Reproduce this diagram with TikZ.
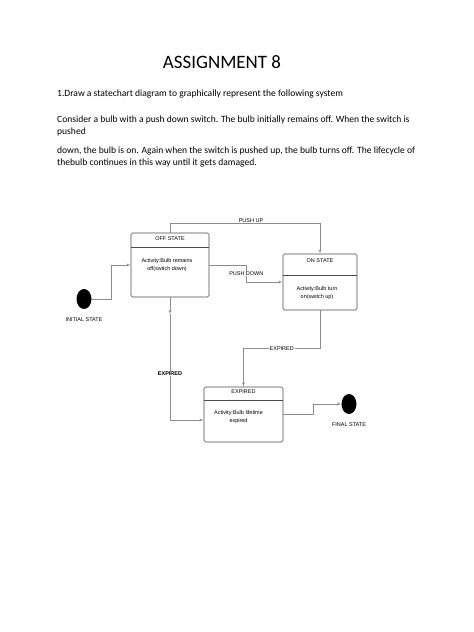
\documentclass[tikz,border=0pt]{standalone}
\usepackage{fontspec}
\setmainfont{Carlito}
\newfontfamily\diagfont{Liberation Sans}
\usetikzlibrary{shapes,arrows,positioning}
\tikzstyle{state} = [rectangle, draw=black!70, rounded corners=1.5pt, line width=0.6pt]
\tikzstyle{divider} = [draw=black!70, line width=0.6pt]
\tikzstyle{dot} = [ellipse, fill=black, minimum width=15bp, minimum height=20bp, inner sep=0pt]
\tikzstyle{line} = [draw=black!45, line width=0.45pt, -latex']
\tikzstyle{lbl} = [font=\diagfont\fontsize{5.5}{8}\selectfont, inner sep=1pt, align=center]
\tikzstyle{para} = [anchor=base west, inner sep=0pt, font=\fontsize{9.6}{12}\selectfont]

\begin{document}
\begin{tikzpicture}[x=1bp, y=-1bp]
  \useasboundingbox [fill=white] (0,0) rectangle (474,632);
  % task text
  \node [font=\fontsize{19}{22}\selectfont, anchor=base, inner sep=0pt] (Title) at (222,69) {ASSIGNMENT 8};
  \node [para] (Task) at (57,97) {1.Draw a statechart diagram to graphically represent the following system};
  \node [para] (TextA) at (57,123) {Consider a bulb with a push down switch. The bulb initially remains off. When the switch is};
  \node [para] (TextB) at (57,135) {pushed};
  \node [para] (TextC) at (57,154) {down, the bulb is on. Again when the switch is pushed up, the bulb turns off. The lifecycle of};
  \node [para] (TextD) at (57,166) {thebulb continues in this way until it gets damaged.};
  %
  \node [state, minimum width=78bp, minimum height=64bp] (Off) at (170,265) {};
  \node [state, minimum width=74bp, minimum height=56bp] (On) at (320,282) {};
  \node [state, minimum width=79bp, minimum height=55bp] (Exp) at (243.5,414.5) {};
  \node [dot] (Init) at (84,299) {};
  \node [dot] (Final) at (349,404) {};
  %
  \path [divider] ([yshift=-15bp]Off.north west) -- ([yshift=-15bp]Off.north east);
  \path [divider] ([yshift=-22bp]On.north west) -- ([yshift=-22bp]On.north east);
  \path [divider] ([yshift=-14bp]Exp.north west) -- ([yshift=-14bp]Exp.north east);
  %
  \node [lbl, below=3bp of Off.north] (OffTitle) {OFF STATE};
  \node [lbl, below=4bp of On.north] (OnTitle) {ON STATE};
  \node [lbl, below=2bp of Exp.north] (ExpTitle) {EXPIRED};
  \node [lbl, xshift=-3bp] (OffAct) at (Off) {Activity:Bulb remains\\off(switch down)};
  \node [lbl, xshift=-3bp, yshift=-11bp] (OnAct) at (On) {Activity:Bulb turn\\on(switch up)};
  \node [lbl, xshift=-5bp, yshift=-2.5bp] (ExpAct) at (Exp) {Activity:Bulb lifetime\\expired};
  \node [lbl, below=7bp of Init] (InitLbl) {INITIAL STATE};
  \node [lbl, below=7bp of Final] (FinalLbl) {FINAL STATE};
  %
  \path [line] (Init.east) -- ++(19.5,0) |- (Off.west);
  \path [line] (Off.north) -- ++(0,-9) -| node[lbl, above, pos=0.27]{PUSH UP} (On.north);
  \path [line] (Off.east) -- ++(37,0) |- node[lbl, fill=white, pos=0.25]{PUSH DOWN} (On.west);
  %
  \path [line] (Off.south) -- ++(0,17) coordinate (OffMid);
  \path [line] (OffMid) |- node[lbl, fill=white, pos=0.28, font=\diagfont\bfseries\fontsize{5.5}{8}\selectfont]{EXPIRED} ([yshift=-5.5bp]Exp.west);
  \path [line] (On.south) -- ++(0,38) -| node[lbl, fill=white, pos=0.25]{EXPIRED} (Exp.north);
  \path [line] (Exp.east) -- ++(30,0) |- (Final.west);
\end{tikzpicture}
\end{document}
